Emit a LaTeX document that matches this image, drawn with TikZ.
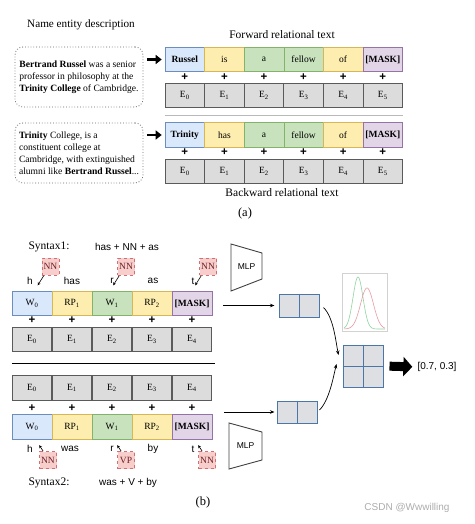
\documentclass[tikz,border=0pt]{standalone}
\usepackage{fontspec}
\setmainfont{Liberation Serif}
\setsansfont{Liberation Sans}
\usetikzlibrary{arrows.meta,calc}
\definecolor{cBlue}{HTML}{DAE8FC}\definecolor{cBlueD}{HTML}{6C8EBF}
\definecolor{cYel}{HTML}{FDEEB0}\definecolor{cYelD}{HTML}{D6B656}
\definecolor{cGreen}{HTML}{C8E2BD}\definecolor{cGreenD}{HTML}{82B366}
\definecolor{cPurp}{HTML}{E1D5E7}\definecolor{cPurpD}{HTML}{9673A6}
\definecolor{cGray}{HTML}{DCDCDC}\definecolor{cGrayD}{HTML}{5A5A5A}
\definecolor{cRed}{HTML}{F8CECC}\definecolor{cRedD}{HTML}{D07070}
\definecolor{cRedT}{HTML}{6A2020}
\definecolor{cCell}{HTML}{DDDFE2}\definecolor{cCellD}{HTML}{4A76A8}
\definecolor{cPlotG}{HTML}{8FD3A0}\definecolor{cPlotR}{HTML}{E89AA6}
\begin{document}
\begin{tikzpicture}[x=1pt,y=-1pt,
  tokbase/.style={draw, minimum width=39.6pt, minimum height=24.5pt, inner sep=0pt, line width=0.6pt, font=\fontsize{9.5}{11}\selectfont},
  tblue/.style={tokbase, fill=cBlue, draw=cBlueD},
  tyel/.style={tokbase, fill=cYel, draw=cYelD},
  tgreen/.style={tokbase, fill=cGreen, draw=cGreenD},
  tpurp/.style={tokbase, fill=cPurp, draw=cPurpD},
  ebox/.style={tokbase, fill=cGray, draw=cGrayD, line width=0.8pt},
  plus/.style={inner sep=0pt, font=\sffamily\bfseries\fontsize{11.5}{11}\selectfont},
  descbox/.style={draw=gray!80!black, dotted, line width=0.8pt, rounded corners=8pt, minimum width=128pt, minimum height=60pt, align=left, inner sep=2pt, font=\fontsize{9.6}{12}\selectfont},
  ttl/.style={inner sep=0pt, font=\fontsize{11.5}{13}\selectfont},
  bigarr/.style={line width=2.6pt, -{Triangle[length=6pt,width=9pt]}},
  nnbox/.style={draw=cRedD, fill=cRed, dashed, line width=0.6pt, minimum width=17pt, minimum height=17pt, inner sep=1pt, text=cRedT, font=\fontsize{9.5}{10}\selectfont},
  lab/.style={inner sep=0pt, font=\sffamily\fontsize{10}{12}\selectfont},
  smallarr/.style={line width=0.6pt, -{Stealth[length=3pt,width=3pt]}},
  mlp/.style={draw=black!75, line width=0.9pt},
  mlpt/.style={inner sep=0pt, font=\sffamily\fontsize{8.5}{10}\selectfont},
  cell/.style={draw=cCellD, fill=cCell, line width=1pt, inner sep=0pt},
  cellline/.style={draw=cCellD, line width=1pt},
  thinarr/.style={line width=0.7pt, -{Stealth[length=4.5pt,width=3.5pt]}},
  blockarr/.style={line width=9pt, -{Triangle[length=9pt,width=19pt]}}
]
\useasboundingbox (0,0) rectangle (474,524);

% ---------------- part (a) ----------------
\node[ttl, font=\fontsize{11.2}{13}\selectfont] (ned) at (81,25) {Name entity description};
\node[descbox] (d1) at (79,77) {\textbf{Bertrand Russel} was a senior\\professor in philosophy at the\\\textbf{Trinity College} of Cambridge.};
\node[descbox] (d2) at (79,153) {\textbf{Trinity} College, is a\\constituent college at\\Cambridge, with extinguished\\alumni like \textbf{Bertrand Russel}...};

\node[ttl] (fwd) at (282,35) {Forward relational text};
\node[ttl] (bwd) at (282,193) {Backward relational text};
\node[ttl, font=\fontsize{12.5}{14}\selectfont] (capa) at (245,213) {(a)};

\foreach \i/\t/\s in {0/{\textbf{Russel}}/tblue, 1/is/tyel, 2/a/tgreen, 3/fellow/tgreen, 4/of/tyel, 5/{\textbf{[MASK]}}/tpurp} {
  \node[\s] (fa\i) at ({184.8+39.6*\i},59.5) {\t};
  \node[plus] (fp\i) at ({184.8+39.6*\i},77) {+};
  \node[ebox] (fe\i) at ({184.8+39.6*\i},95.5) {E\textsubscript{\i}};
}
\foreach \i/\t/\s in {0/{\textbf{Trinity}}/tblue, 1/has/tyel, 2/a/tgreen, 3/fellow/tgreen, 4/of/tyel, 5/{\textbf{[MASK]}}/tpurp} {
  \node[\s] (sa\i) at ({184.8+39.6*\i},135) {\t};
  \node[plus] (sp\i) at ({184.8+39.6*\i},152) {+};
  \node[ebox] (se\i) at ({184.8+39.6*\i},171.5) {E\textsubscript{\i}};
}
\draw[gray!55, line width=1pt] ($(fe0.south west)!0.5!(sa0.north west)$) -- ($(fe5.south east)!0.5!(sa5.north east)$);
\draw[bigarr, shorten <=4pt, shorten >=3pt] (d1.east |- fa0.west) -- (fa0.west);
\draw[bigarr, shorten <=4pt, shorten >=3pt] (d2.east |- sa0.west) -- (sa0.west);

% ---------------- part (b) ----------------
\node[ttl] (syn1) at (49,247) {Syntax1:};
\node[lab] (syn1r) at (127,247) {has + NN + as};
\node[ttl] (syn2) at (49,483) {Syntax2:};
\node[lab] (syn2r) at (128,483) {was + V + by};
\node[ttl, font=\fontsize{12.5}{14}\selectfont] (capb) at (203,502) {(b)};

\foreach \i/\t/\s in {0/{W\textsubscript{0}}/tblue, 1/{RP\textsubscript{1}}/tyel, 2/{W\textsubscript{1}}/tgreen, 3/{RP\textsubscript{2}}/tyel, 4/{\textbf{[MASK]}}/tpurp} {
  \node[\s] (bt\i) at ({32+40*\i},303.5) {\t};
  \node[plus] (bp\i) at ({32+40*\i},320) {+};
  \node[ebox] (be\i) at ({32+40*\i},339.5) {E\textsubscript{\i}};
  \node[ebox] (ce\i) at ({32+40*\i},388) {E\textsubscript{\i}};
  \node[plus] (cp\i) at ({32+40*\i},408) {+};
  \node[\s] (ct\i) at ({32+40*\i},427) {\t};
}
\draw[black, line width=1pt] ($(be0.south west)!0.5!(ce0.north west)$) -- ([xshift=3pt]$(be4.south east)!0.5!(ce4.north east)$);

% labels above / below
\foreach \n/\x/\t in {l1/30/h, l2/72/has, l3/112/r, l4/153/as, l5/193/t}
  \node[lab] (u\n) at (\x,281) {\t};
\foreach \n/\x/\t in {l1/30/h, l2/70/was, l3/112/r, l4/153/by, l5/193/t}
  \node[lab] (d\n) at (\x,449) {\t};

% NN / VP boxes with small arrows
\foreach \n/\x/\t in {1/50.5/NN, 2/126/NN, 3/208/NN} {
  \node[nnbox] (nt\n) at (\x,266.5) {\t};
  \coordinate (ntip\n) at ($(nt\n.south west)+(-4,10)$);
  \draw[smallarr] ($(nt\n.south west)+(2,0.5)$) -- (ntip\n);
}
\foreach \n/\x/\t in {1/48/NN, 2/126/VP, 3/207/NN} {
  \node[nnbox] (nb\n) at (\x,460) {\t};
  \coordinate (nbtip\n) at ($(nb\n.north west)+(0,-6)$);
  \draw[smallarr] ($(nb\n.north west)+(4,0)$) -- (nbtip\n);
}

% MLPs
\draw[mlp] (231,244) -- (262,253) -- (262,279) -- (231,291) -- cycle;
\node[mlpt] (mlp1) at (246.5,267) {MLP};
\draw[mlp] (229,423) -- (262,432) -- (262,460) -- (229,469) -- cycle;
\node[mlpt] (mlp2) at (245.5,446) {MLP};

% cells
\node[cell, minimum width=40pt, minimum height=23pt] (c1) at (299,305.5) {};
\draw[cellline] (c1.north) -- (c1.south);
\node[cell, minimum width=40pt, minimum height=22pt] (c2) at (297,412) {};
\draw[cellline] (c2.north) -- (c2.south);
\node[cell, minimum width=40pt, minimum height=42pt] (g) at (363,366) {};
\draw[cellline] (g.north) -- (g.south);
\draw[cellline] (g.west) -- (g.east);

\draw[thinarr, shorten >=4pt] ([xshift=11pt]bt4.east |- c1.west) -- (c1.west);
\draw[thinarr, shorten >=2pt] ([xshift=12pt]ct4.east |- c2.west) -- (c2.west);

\draw[thinarr] ($(c1.east)+(4,2)$) .. controls +(10,10) and +(-3,-15) .. ($(g.west)+(-4,-11)$);
\draw[thinarr] ($(c2.east)+(2,-2)$) .. controls +(10,-10) and +(-3,12) .. ($(g.west)+(-6,-2)$);

% distribution plot
\node[draw=gray!35, line width=0.6pt, minimum width=45pt, minimum height=58pt, inner sep=0pt] (pl) at (364.5,302) {};
\draw[cPlotG, line width=0.6pt] plot[domain=344:385, samples=80, smooth] (\x,{329-52*exp(-((\x-358)^2)/50)});
\draw[cPlotR, line width=0.6pt] plot[domain=344:385, samples=80, smooth] (\x,{329-41*exp(-((\x-367)^2)/84)});

% result
\node[inner sep=0pt, font=\sffamily\fontsize{10}{12}\selectfont] (res) at (437,367) {[0.7, 0.3]};
\draw[blockarr, shorten <=6pt, shorten >=5pt] (g.east) -- (res.west);

% watermark
\node[inner sep=0pt, text=gray!65, font=\sffamily\fontsize{10}{12}\selectfont] (wm) at (407,508) {CSDN @Wwwilling};
\end{tikzpicture}
\end{document}
